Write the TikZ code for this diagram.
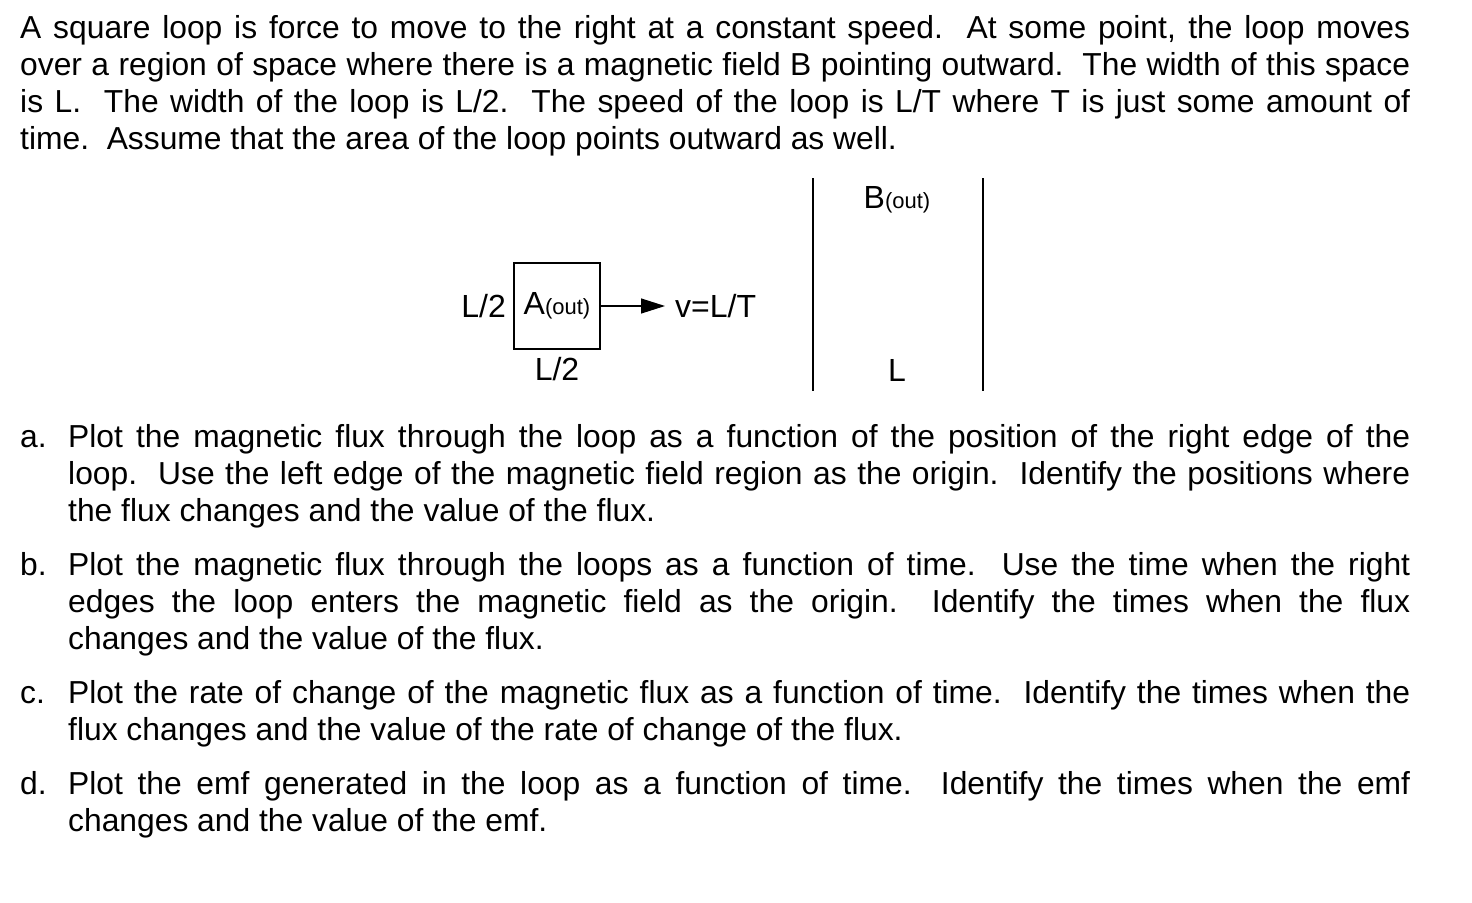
\documentclass[tikz,border=0pt]{standalone}
\usepackage{fontspec}
\setmainfont{Liberation Sans}
\usetikzlibrary{arrows.meta}
\begin{document}
\begin{tikzpicture}[x=1pt,y=-1pt,
  para/.style={anchor=base west,inner sep=0pt,align=justify,font=\fontsize{31.8}{37}\selectfont},
  lbl/.style={inner sep=0pt,font=\fontsize{32}{36}\selectfont},
  sm/.style={font=\fontsize{22}{24}\selectfont}]
\useasboundingbox (0,0) rectangle (1472,902);
\node[para,text width=1390pt] (intro) at (20,38) {A square loop is force to move to the right at a constant speed.\ \ At some point, the loop moves\linebreak over a region of space where there is a magnetic field B pointing outward.\ \ The width of this space\linebreak is L.\ \ The width of the loop is L/2.\ \ The speed of the loop is L/T where T is just some amount of\linebreak time.\ \ Assume that the area of the loop points outward as well.};
% diagram
\node[draw,line width=1.2pt,minimum width=86pt,minimum height=86pt,inner sep=0pt] (sq) at (557,306) {};
\node[lbl] (a) at (557,306) {A{\fontsize{22}{24}\selectfont(out)}};
\node[lbl,anchor=east] (l2a) at (506,306) {L/2};
\node[lbl] (l2b) at (557,369) {L/2};
\node[lbl,anchor=west] (v) at (675,306) {v=L/T};
\draw[line width=1.2pt,-{Triangle[length=24pt,width=15pt]}] (sq.east) -- (665,306) coordinate (tip);
\coordinate (t1) at (813,178); \coordinate (b1) at (813,391);
\coordinate (t2) at (983,178); \coordinate (b2) at (983,391);
\draw[line width=1.4pt] (t1) -- (b1);
\draw[line width=1.2pt] (t2) -- (b2);
\node[lbl] (B) at (897,200) {B{\fontsize{22}{24}\selectfont(out)}};
\node[lbl] (L) at (897,370) {L};
% items
\node[para] (la) at (20,447) {a.};
\node[para,text width=1342pt] (ta) at (68,447) {Plot the magnetic flux through the loop as a function of the position of the right edge of the\linebreak loop.\ \ Use the left edge of the magnetic field region as the origin.\ \ Identify the positions where\linebreak the flux changes and the value of the flux.};
\node[para] (lb) at (20,575) {b.};
\node[para,text width=1342pt] (tb) at (68,575) {Plot the magnetic flux through the loops as a function of time.\ \ Use the time when the right\linebreak edges the loop enters the magnetic field as the origin.\ \ Identify the times when the flux\linebreak changes and the value of the flux.};
\node[para] (lc) at (20,703) {c.};
\node[para,text width=1342pt] (tc) at (68,703) {Plot the rate of change of the magnetic flux as a function of time.\ \ Identify the times when the\linebreak flux changes and the value of the rate of change of the flux.};
\node[para] (ld) at (20,794) {d.};
\node[para,text width=1342pt] (td) at (68,794) {Plot the emf generated in the loop as a function of time.\ \ Identify the times when the emf\linebreak changes and the value of the emf.};
\end{tikzpicture}
\end{document}
